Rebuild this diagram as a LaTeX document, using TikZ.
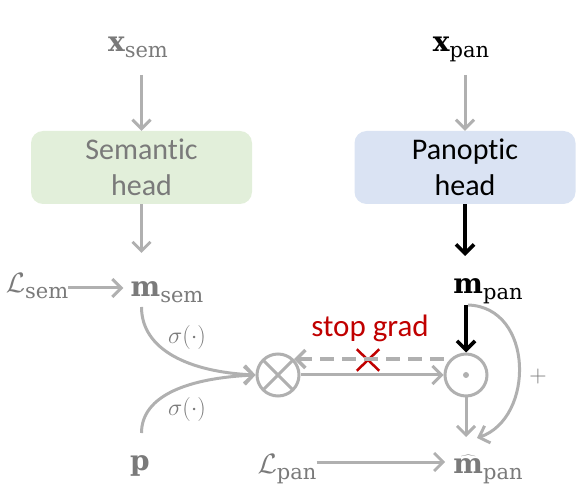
\RequirePackage{fix-cm}
\documentclass[tikz,border=0pt]{standalone}
\usepackage[no-math]{fontspec}
\setmainfont{Carlito}[Ligatures=NoCommon]
\newfontfamily\dvs{DejaVu Serif}
\usetikzlibrary{arrows.meta,calc,shapes.misc}
\DeclareMathSizes{24}{24}{18}{14}
\newcommand{\sbx}[2]{{\dvs\bfseries #1}\raisebox{-6pt}{\fontsize{21}{24}\selectfont\dvs #2}}
\newcommand{\Lsb}[1]{$\mathcal{L}$\raisebox{-6pt}{\fontsize{21}{24}\selectfont\dvs #1}}
\definecolor{gline}{RGB}{176,176,176}
\definecolor{gtext}{RGB}{122,122,122}
\definecolor{semfill}{RGB}{226,239,218}
\definecolor{panfill}{RGB}{218,227,243}
\definecolor{redc}{RGB}{192,0,0}
\begin{document}
\begin{tikzpicture}[x=1pt,y=-1pt,
  garr/.style={draw=gline, line width=3pt, -{Straight Barb[length=9pt,width=18pt]}},
  barr/.style={draw=black, line width=3.6pt, -{Straight Barb[length=9pt,width=18pt]}},
  gdash/.style={garr, line width=3.5pt, dash pattern=on 14pt off 8pt},
  headbox/.style={rounded corners=12pt, minimum width=221pt, minimum height=73pt, align=center, font=\fontsize{30}{36}\selectfont, inner sep=0pt},
  mlabel/.style={anchor=base, inner sep=0pt, font=\fontsize{28}{34}\selectfont},
  siglabel/.style={inner sep=0pt, text=gtext, font=\fontsize{24}{28}\selectfont},
  opnode/.style={circle, draw=gline, line width=3pt, minimum size=42pt, inner sep=0pt}]
\useasboundingbox (0,0) rectangle (579,489);

% heads
\node[headbox, fill=semfill, text=gtext] (sembox) at (141.5,167.5) {Semantic\\head};
\node[headbox, fill=panfill, text=black] (panbox) at (465,167.5) {Panoptic\\head};

% math labels
\node[mlabel, text=gtext] (xsem) at (138,52) {\sbx{x}{sem}};
\node[mlabel, text=black] (xpan) at (461,52) {\sbx{x}{pan}};
\node[mlabel, text=gtext] (msem) at (167,297) {\sbx{m}{sem}};
\node[mlabel, text=black] (mpan) at (488,294) {\sbx{m}{pan}};
\node[mlabel, text=gtext] (Lsem) at (37,293) {\Lsb{sem}};
\node[mlabel, text=gtext] (p) at (140,470) {\sbx{p}{}};
\node[mlabel, text=gtext] (Lpan) at (287,473) {\Lsb{pan}};
\node[mlabel, text=gtext] (mhat) at (488,473) {$\widehat{\hbox{\dvs\bfseries m}}$\raisebox{-6pt}{\fontsize{21}{24}\selectfont\dvs pan}};

% operators
\node[opnode, path picture={\draw[gline, line width=3pt]
   (path picture bounding box.north west) -- (path picture bounding box.south east)
   (path picture bounding box.north east) -- (path picture bounding box.south west);}]
   (otimes) at (278,375) {};
\node[opnode, path picture={\fill[gline] (path picture bounding box.center) circle (3pt);}]
   (odot) at (466,375) {};

% small labels
\node[siglabel] (sig1) at (187,338) {$\sigma(\cdot)$};
\node[siglabel] (sig2) at (187,410) {$\sigma(\cdot)$};
\node[siglabel] (plus) at (538,377) {$+$};
\node[anchor=base, inner sep=0pt, text=redc, font=\fontsize{31}{36}\selectfont] (stop) at (370,337) {stop grad};
\node[cross out, draw=redc, line width=2.5pt, minimum width=20pt, minimum height=19pt, inner sep=0pt] (stopx) at (368,360) {};

% connectors
\draw[garr] ($(xsem.base -| sembox.north)+(0,23)$) -- (sembox.north);
\draw[garr] ($(xpan.base -| panbox.north)+(0,23)$) -- (panbox.north);
\draw[garr] (sembox.south) -- ($(msem.base -| sembox.south)+(0,-44)$);
\draw[barr] (panbox.south) -- ($(mpan.base -| panbox.south)+(0,-38)$);
\draw[garr] ($(Lsem.base east)+(0,-5)$) -- ($(Lsem.base -| msem.base west)+(-7,-5)$);
\draw[garr] ($(msem.base -| sembox.south)+(0,10)$) .. controls +(0,43) and +(-66,-3) .. (otimes.west);
\draw[garr] ($(p.base -| sembox.south)+(0,-37)$) .. controls +(0,-38) and +(-66,3) .. (otimes.west);
\draw[garr] (otimes.east) -- (odot.west);
\draw[gdash] (otimes.45 -| odot.west) -- (otimes.45);
\draw[garr] ($(mpan.base -| odot.north)+(2,11)$) .. controls +(66,2) and +(58,-20) .. ($(mhat.base -| odot.south)+(11,-35)$);
\draw[barr] ($(mpan.base -| odot.north)+(0,11)$) -- (odot.north);
\draw[garr] (odot.south) -- ($(mhat.base -| odot.south)+(0,-36)$);
\draw[garr] ($(Lpan.base east)+(0,-11)$) -- ($(Lpan.base -| mhat.base west)+(-8,-11)$);
\end{tikzpicture}
\end{document}
